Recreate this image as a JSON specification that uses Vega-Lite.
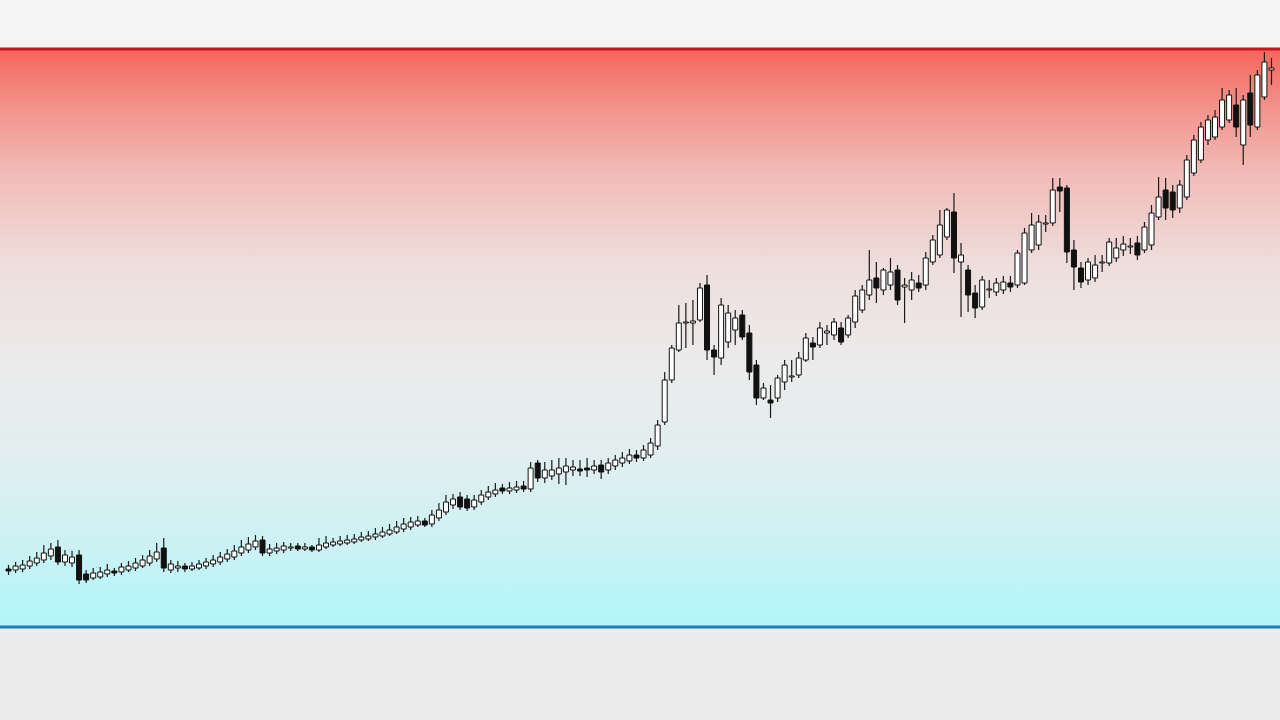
{
  "$schema": "https://vega.github.io/schema/vega-lite/v6.json",
  "autosize": {"type": "none"},
  "width": 1280,
  "height": 720,
  "padding": 0,
  "background": "#ececec",
  "config": {"view": {"stroke": null}},
  "datasets": {
    "zone": [{"floor": 0, "support": 9.3, "resistance": 67.1, "ceiling": 72}],
    "candles": [
      {"t":0,"o":15.1,"h":15.5,"l":14.5,"c":14.9},
      {"t":1,"o":15.0,"h":15.8,"l":14.7,"c":15.4},
      {"t":2,"o":15.1,"h":16.0,"l":14.8,"c":15.5},
      {"t":3,"o":15.4,"h":16.4,"l":15.1,"c":15.9},
      {"t":4,"o":15.7,"h":16.8,"l":15.4,"c":16.2},
      {"t":5,"o":16.0,"h":17.5,"l":15.7,"c":16.7},
      {"t":6,"o":16.4,"h":17.7,"l":16.0,"c":17.1},
      {"t":7,"o":17.3,"h":18.0,"l":15.5,"c":15.8},
      {"t":8,"o":15.8,"h":17.0,"l":15.4,"c":16.5},
      {"t":9,"o":15.7,"h":16.9,"l":15.3,"c":16.3},
      {"t":10,"o":16.5,"h":17.0,"l":13.6,"c":14.0},
      {"t":11,"o":14.6,"h":15.0,"l":13.7,"c":14.0},
      {"t":12,"o":14.2,"h":15.2,"l":14.0,"c":14.7},
      {"t":13,"o":14.3,"h":15.3,"l":14.1,"c":14.8},
      {"t":14,"o":14.6,"h":15.6,"l":14.3,"c":15.0},
      {"t":15,"o":14.9,"h":15.2,"l":14.4,"c":14.7},
      {"t":16,"o":14.8,"h":15.7,"l":14.5,"c":15.3},
      {"t":17,"o":15.0,"h":15.9,"l":14.8,"c":15.4},
      {"t":18,"o":15.2,"h":16.2,"l":14.9,"c":15.7},
      {"t":19,"o":15.4,"h":16.5,"l":15.2,"c":16.0},
      {"t":20,"o":15.7,"h":17.0,"l":15.4,"c":16.4},
      {"t":21,"o":16.1,"h":17.7,"l":15.8,"c":16.8},
      {"t":22,"o":17.2,"h":18.2,"l":14.8,"c":15.2},
      {"t":23,"o":15.0,"h":16.0,"l":14.7,"c":15.6},
      {"t":24,"o":15.2,"h":15.9,"l":14.8,"c":15.4},
      {"t":25,"o":15.4,"h":15.7,"l":14.8,"c":15.1},
      {"t":26,"o":15.1,"h":15.8,"l":14.9,"c":15.4},
      {"t":27,"o":15.2,"h":16.0,"l":15.0,"c":15.6},
      {"t":28,"o":15.4,"h":16.2,"l":15.1,"c":15.8},
      {"t":29,"o":15.6,"h":16.5,"l":15.3,"c":16.0},
      {"t":30,"o":15.8,"h":16.8,"l":15.5,"c":16.3},
      {"t":31,"o":16.1,"h":17.1,"l":15.8,"c":16.6},
      {"t":32,"o":16.3,"h":17.5,"l":16.0,"c":16.9},
      {"t":33,"o":16.7,"h":18.0,"l":16.4,"c":17.3},
      {"t":34,"o":17.0,"h":18.3,"l":16.7,"c":17.6},
      {"t":35,"o":17.3,"h":18.5,"l":17.0,"c":17.9},
      {"t":36,"o":18.0,"h":18.4,"l":16.4,"c":16.7},
      {"t":37,"o":16.7,"h":17.6,"l":16.4,"c":17.1},
      {"t":38,"o":16.9,"h":17.7,"l":16.6,"c":17.2},
      {"t":39,"o":17.0,"h":17.8,"l":16.7,"c":17.4},
      {"t":40,"o":17.2,"h":17.7,"l":16.9,"c":17.3},
      {"t":41,"o":17.4,"h":17.7,"l":16.9,"c":17.1},
      {"t":42,"o":17.1,"h":17.7,"l":16.9,"c":17.3},
      {"t":43,"o":17.3,"h":17.5,"l":16.8,"c":17.0},
      {"t":44,"o":17.0,"h":18.2,"l":16.8,"c":17.5},
      {"t":45,"o":17.3,"h":18.4,"l":17.1,"c":17.7},
      {"t":46,"o":17.5,"h":18.2,"l":17.3,"c":17.8},
      {"t":47,"o":17.6,"h":18.4,"l":17.4,"c":17.9},
      {"t":48,"o":17.7,"h":18.5,"l":17.5,"c":18.0},
      {"t":49,"o":17.8,"h":18.6,"l":17.6,"c":18.1},
      {"t":50,"o":18.0,"h":18.8,"l":17.8,"c":18.3},
      {"t":51,"o":18.1,"h":18.9,"l":17.9,"c":18.4},
      {"t":52,"o":18.3,"h":19.2,"l":18.0,"c":18.6},
      {"t":53,"o":18.4,"h":19.3,"l":18.2,"c":18.8},
      {"t":54,"o":18.6,"h":19.6,"l":18.4,"c":19.0},
      {"t":55,"o":18.8,"h":19.9,"l":18.6,"c":19.3},
      {"t":56,"o":19.1,"h":20.2,"l":18.8,"c":19.6},
      {"t":57,"o":19.3,"h":20.3,"l":19.0,"c":19.8},
      {"t":58,"o":19.5,"h":20.4,"l":19.3,"c":19.9},
      {"t":59,"o":19.9,"h":20.2,"l":19.3,"c":19.5},
      {"t":60,"o":19.6,"h":21.0,"l":19.3,"c":20.5},
      {"t":61,"o":20.2,"h":21.7,"l":19.9,"c":21.0},
      {"t":62,"o":20.8,"h":22.5,"l":20.5,"c":21.8},
      {"t":63,"o":21.5,"h":22.6,"l":21.1,"c":22.1},
      {"t":64,"o":22.3,"h":22.8,"l":21.0,"c":21.3},
      {"t":65,"o":22.1,"h":22.5,"l":20.9,"c":21.2},
      {"t":66,"o":21.3,"h":22.5,"l":21.0,"c":22.0},
      {"t":67,"o":21.8,"h":23.0,"l":21.5,"c":22.5},
      {"t":68,"o":22.3,"h":23.4,"l":22.0,"c":22.8},
      {"t":69,"o":22.6,"h":23.7,"l":22.3,"c":23.0},
      {"t":70,"o":23.2,"h":23.6,"l":22.6,"c":22.9},
      {"t":71,"o":22.9,"h":23.8,"l":22.6,"c":23.2},
      {"t":72,"o":23.0,"h":23.9,"l":22.7,"c":23.3},
      {"t":73,"o":23.4,"h":23.9,"l":22.8,"c":23.1},
      {"t":74,"o":23.1,"h":25.8,"l":22.8,"c":25.2},
      {"t":75,"o":25.7,"h":26.0,"l":23.8,"c":24.2},
      {"t":76,"o":24.2,"h":25.8,"l":23.7,"c":25.0},
      {"t":77,"o":24.4,"h":26.0,"l":24.0,"c":25.0},
      {"t":78,"o":24.6,"h":26.2,"l":23.6,"c":25.2},
      {"t":79,"o":24.8,"h":26.2,"l":23.5,"c":25.4},
      {"t":80,"o":25.0,"h":26.0,"l":24.4,"c":25.3},
      {"t":81,"o":25.1,"h":26.0,"l":24.4,"c":24.9},
      {"t":82,"o":25.2,"h":26.2,"l":24.3,"c":25.0},
      {"t":83,"o":25.0,"h":26.0,"l":24.6,"c":25.4},
      {"t":84,"o":25.5,"h":26.0,"l":24.1,"c":24.8},
      {"t":85,"o":25.0,"h":26.2,"l":24.6,"c":25.7},
      {"t":86,"o":25.4,"h":26.5,"l":25.0,"c":26.0},
      {"t":87,"o":25.7,"h":26.8,"l":25.3,"c":26.2},
      {"t":88,"o":25.9,"h":27.1,"l":25.6,"c":26.5},
      {"t":89,"o":26.5,"h":27.0,"l":25.8,"c":26.2},
      {"t":90,"o":26.2,"h":27.5,"l":25.9,"c":27.0},
      {"t":91,"o":26.5,"h":28.2,"l":26.2,"c":27.7},
      {"t":92,"o":27.4,"h":30.0,"l":27.0,"c":29.5},
      {"t":93,"o":29.8,"h":34.8,"l":29.5,"c":34.0},
      {"t":94,"o":34.0,"h":37.5,"l":33.7,"c":37.2},
      {"t":95,"o":37.0,"h":41.5,"l":36.8,"c":39.7},
      {"t":96,"o":39.7,"h":41.7,"l":37.2,"c":39.8},
      {"t":97,"o":39.7,"h":42.0,"l":37.5,"c":39.9},
      {"t":98,"o":40.0,"h":43.7,"l":39.8,"c":43.2},
      {"t":99,"o":43.5,"h":44.5,"l":36.0,"c":37.0},
      {"t":100,"o":37.0,"h":37.5,"l":34.5,"c":36.3},
      {"t":101,"o":36.2,"h":42.2,"l":35.5,"c":41.5},
      {"t":102,"o":37.8,"h":41.5,"l":37.2,"c":40.7},
      {"t":103,"o":39.0,"h":41.0,"l":37.5,"c":40.2},
      {"t":104,"o":40.5,"h":41.0,"l":38.0,"c":38.3},
      {"t":105,"o":38.7,"h":39.5,"l":34.0,"c":34.8},
      {"t":106,"o":35.5,"h":36.0,"l":31.5,"c":32.2},
      {"t":107,"o":32.2,"h":33.7,"l":32.0,"c":33.2},
      {"t":108,"o":32.0,"h":33.5,"l":30.2,"c":31.7},
      {"t":109,"o":32.2,"h":34.5,"l":31.8,"c":34.2},
      {"t":110,"o":33.8,"h":36.0,"l":33.0,"c":35.5},
      {"t":111,"o":34.3,"h":36.0,"l":33.8,"c":34.4},
      {"t":112,"o":34.5,"h":36.8,"l":34.2,"c":36.2},
      {"t":113,"o":36.0,"h":38.7,"l":35.8,"c":38.2},
      {"t":114,"o":37.7,"h":38.3,"l":36.0,"c":37.3},
      {"t":115,"o":37.5,"h":39.8,"l":37.2,"c":39.2},
      {"t":116,"o":38.7,"h":39.5,"l":37.5,"c":38.9},
      {"t":117,"o":38.5,"h":40.2,"l":38.0,"c":39.8},
      {"t":118,"o":39.2,"h":39.8,"l":37.5,"c":37.8},
      {"t":119,"o":38.5,"h":40.5,"l":38.2,"c":40.2},
      {"t":120,"o":39.8,"h":43.0,"l":39.2,"c":42.4},
      {"t":121,"o":41.0,"h":43.5,"l":40.7,"c":43.0},
      {"t":122,"o":42.5,"h":47.0,"l":42.0,"c":44.0},
      {"t":123,"o":44.2,"h":45.8,"l":41.7,"c":43.2},
      {"t":124,"o":43.0,"h":45.2,"l":42.5,"c":45.0},
      {"t":125,"o":43.5,"h":46.2,"l":43.0,"c":44.8},
      {"t":126,"o":45.0,"h":45.5,"l":41.5,"c":42.0},
      {"t":127,"o":43.3,"h":44.2,"l":39.7,"c":43.5},
      {"t":128,"o":43.0,"h":44.8,"l":42.0,"c":44.0},
      {"t":129,"o":43.7,"h":44.5,"l":42.8,"c":43.2},
      {"t":130,"o":43.5,"h":46.8,"l":43.0,"c":46.2},
      {"t":131,"o":45.8,"h":48.5,"l":45.5,"c":48.0},
      {"t":132,"o":46.5,"h":51.0,"l":46.2,"c":49.5},
      {"t":133,"o":48.3,"h":51.2,"l":48.0,"c":51.0},
      {"t":134,"o":50.8,"h":52.7,"l":44.7,"c":46.2},
      {"t":135,"o":45.8,"h":47.7,"l":40.3,"c":46.5},
      {"t":136,"o":45.0,"h":45.5,"l":40.8,"c":42.5},
      {"t":137,"o":42.7,"h":43.5,"l":40.2,"c":41.2},
      {"t":138,"o":41.3,"h":44.4,"l":41.0,"c":44.0},
      {"t":139,"o":43.0,"h":44.0,"l":42.2,"c":43.1},
      {"t":140,"o":42.8,"h":44.2,"l":42.4,"c":43.7},
      {"t":141,"o":43.0,"h":44.4,"l":42.6,"c":43.8},
      {"t":142,"o":43.7,"h":44.4,"l":42.8,"c":43.3},
      {"t":143,"o":43.5,"h":47.0,"l":43.2,"c":46.7},
      {"t":144,"o":43.7,"h":49.2,"l":43.5,"c":48.7},
      {"t":145,"o":47.0,"h":50.7,"l":46.7,"c":49.5},
      {"t":146,"o":47.5,"h":50.5,"l":47.0,"c":49.8},
      {"t":147,"o":49.6,"h":50.5,"l":48.8,"c":49.7},
      {"t":148,"o":49.7,"h":54.2,"l":49.4,"c":53.0},
      {"t":149,"o":53.3,"h":54.2,"l":50.8,"c":52.9},
      {"t":150,"o":53.2,"h":53.5,"l":45.7,"c":46.8},
      {"t":151,"o":47.0,"h":48.0,"l":43.0,"c":45.3},
      {"t":152,"o":45.2,"h":45.8,"l":43.2,"c":43.8},
      {"t":153,"o":44.0,"h":46.2,"l":43.5,"c":45.8},
      {"t":154,"o":44.2,"h":46.5,"l":43.8,"c":45.5},
      {"t":155,"o":45.7,"h":46.5,"l":44.8,"c":45.8},
      {"t":156,"o":45.7,"h":48.2,"l":45.4,"c":47.8},
      {"t":157,"o":46.2,"h":48.2,"l":45.8,"c":47.2},
      {"t":158,"o":47.0,"h":48.4,"l":46.4,"c":47.6},
      {"t":159,"o":47.3,"h":48.2,"l":46.6,"c":47.4},
      {"t":160,"o":47.7,"h":48.4,"l":46.0,"c":46.5},
      {"t":161,"o":47.0,"h":49.8,"l":46.7,"c":49.3},
      {"t":162,"o":47.5,"h":51.5,"l":47.0,"c":50.7},
      {"t":163,"o":50.3,"h":54.3,"l":50.0,"c":52.3},
      {"t":164,"o":53.0,"h":54.2,"l":50.0,"c":51.2},
      {"t":165,"o":52.8,"h":53.5,"l":50.2,"c":51.0},
      {"t":166,"o":51.2,"h":54.0,"l":50.7,"c":53.5},
      {"t":167,"o":52.3,"h":56.5,"l":52.0,"c":56.0},
      {"t":168,"o":54.7,"h":58.5,"l":54.4,"c":58.0},
      {"t":169,"o":56.0,"h":59.8,"l":55.7,"c":59.3},
      {"t":170,"o":58.0,"h":60.5,"l":57.5,"c":60.0},
      {"t":171,"o":58.3,"h":61.0,"l":58.0,"c":60.3},
      {"t":172,"o":59.3,"h":63.2,"l":59.0,"c":62.0},
      {"t":173,"o":60.0,"h":63.0,"l":59.7,"c":62.5},
      {"t":174,"o":61.5,"h":63.2,"l":58.3,"c":59.3},
      {"t":175,"o":57.5,"h":62.5,"l":55.5,"c":62.0},
      {"t":176,"o":62.7,"h":64.5,"l":58.3,"c":59.5},
      {"t":177,"o":59.3,"h":65.0,"l":59.0,"c":64.5},
      {"t":178,"o":62.3,"h":66.8,"l":62.0,"c":65.8},
      {"t":179,"o":65.0,"h":66.2,"l":63.5,"c":65.2}
    ]
  },
  "layer": [
    {
      "data": {"name": "zone"},
      "mark": {"type": "rect", "color": "#f5f5f5"},
      "encoding": {
        "y": {"field": "resistance", "type": "quantitative", "axis": null, "scale": {"domain": [0, 72], "nice": false, "zero": false}},
        "y2": {"field": "ceiling"}
      }
    },
    {
      "data": {"name": "zone"},
      "mark": {
        "type": "rect",
        "color": {
          "gradient": "linear", "x1": 0, "y1": 0, "x2": 0, "y2": 1,
          "stops": [
            {"offset": 0, "color": "#f4665c"},
            {"offset": 0.1, "color": "#f3928a"},
            {"offset": 0.22, "color": "#f1bdb9"},
            {"offset": 0.38, "color": "#eedfde"},
            {"offset": 0.55, "color": "#ebebeb"},
            {"offset": 0.7, "color": "#e2eeef"},
            {"offset": 0.86, "color": "#ccf2f4"},
            {"offset": 1, "color": "#b0f6f9"}
          ]
        }
      },
      "encoding": {
        "y": {"field": "resistance", "type": "quantitative", "axis": null},
        "y2": {"field": "support"}
      }
    },
    {
      "data": {"name": "zone"},
      "mark": {"type": "rule", "color": "#c8151a", "strokeWidth": 3},
      "encoding": {"y": {"field": "resistance", "type": "quantitative", "axis": null}}
    },
    {
      "data": {"name": "zone"},
      "mark": {"type": "rule", "color": "#1c7fb4", "strokeWidth": 3},
      "encoding": {"y": {"field": "support", "type": "quantitative", "axis": null}}
    },
    {
      "data": {"name": "candles"},
      "mark": {"type": "rule", "color": "#1a1a1a", "strokeWidth": 1.2},
      "encoding": {
        "x": {"field": "t", "type": "quantitative", "axis": null, "scale": {"domain": [-0.5, 179.5], "nice": false, "zero": false}},
        "y": {"field": "l", "type": "quantitative", "axis": null},
        "y2": {"field": "h"}
      }
    },
    {
      "data": {"name": "candles"},
      "mark": {"type": "bar", "orient": "vertical", "size": 5, "stroke": "#111111", "strokeWidth": 1},
      "encoding": {
        "x": {"field": "t", "type": "quantitative", "axis": null},
        "y": {"field": "o", "type": "quantitative", "axis": null},
        "y2": {"field": "c"},
        "fill": {
          "condition": {"test": "datum.o > datum.c", "value": "#111111"},
          "value": "#ffffff"
        }
      }
    }
  ]
}
